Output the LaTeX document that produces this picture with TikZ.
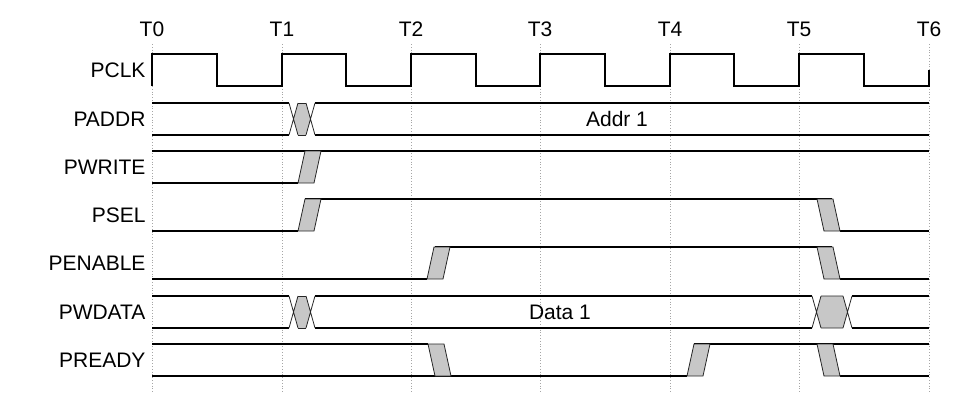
\documentclass[tikz,border=0pt]{standalone}
\usepackage{fontspec}
\setmainfont{Liberation Sans}
\begin{document}
\begin{tikzpicture}[x=1pt,y=-1pt,
  sig/.style={line width=1.6pt,black},
  tr/.style={draw=black!85,line width=0.8pt,fill=black!22,line join=miter},
  xl/.style={black!85,line width=0.8pt},
  grid/.style={gray!70,dotted,line width=0.8pt},
  lab/.style={anchor=east,font=\fontsize{21}{24}\selectfont},
  tl/.style={anchor=south,font=\fontsize{21}{24}\selectfont}]
\useasboundingbox (0,0) rectangle (969,415);
% grid
\foreach \i/\x in {0/152,1/282,2/411,3/540,4/670,5/799,6/929}{
  \draw[grid] (\x,44) -- (\x,392);
  \node[tl] (t\i) at (\x,40) {T\i};
}
% labels
\foreach \n/\y in {PCLK/70,PADDR/119,PWRITE/167,PSEL/215,PENABLE/263,PWDATA/312,PREADY/360}{
  \node[lab] (l\n) at (149,\y) {\n};
}
% PCLK
\draw[sig] (152,86) -- (152,54) -- (217,54) -- (217,86) -- (282,86) -- (282,54) -- (346,54) -- (346,86) -- (411,86) -- (411,54) -- (476,54) -- (476,86) -- (540,86) -- (540,54) -- (605,54) -- (605,86) -- (670,86) -- (670,54) -- (734,54) -- (734,86) -- (799,86) -- (799,54) -- (864,54) -- (864,86) -- (929,86) -- (929,70);
% bus X helper
\newcommand{\busx}[3]{% y top, y bottom, x start
  \pgfmathsetmacro{\ym}{(#1+#2)/2}
  \fill[black!22] (#3+4.5,\ym) -- (#3+9,#1) -- (#3+17,#1) -- (#3+21.5,\ym) -- (#3+17,#2) -- (#3+9,#2) -- cycle;
  \draw[xl] (#3,#1) -- (#3+9,#2) (#3,#2) -- (#3+9,#1);
  \draw[xl] (#3+17,#1) -- (#3+26,#2) (#3+17,#2) -- (#3+26,#1);
  \draw[xl] (#3+9,#1) -- (#3+17,#1) (#3+9,#2) -- (#3+17,#2);
}
% PADDR
\draw[sig] (152,103) -- (289,103) (152,135) -- (289,135) (315,103) -- (929,103) (315,135) -- (929,135);
\busx{103}{135}{289}
\node[font=\fontsize{21}{24}\selectfont] (addr) at (617,119) {Addr 1};
% rising/falling
\newcommand{\rise}[3]{% ytop ybot xbottom-left
  \draw[tr] (#3,#2) -- (#3+16,#2) -- (#3+23,#1) -- (#3+7,#1) -- cycle;}
\newcommand{\fall}[3]{% ytop ybot xtop-left
  \draw[tr] (#3,#1) -- (#3+16,#1) -- (#3+23,#2) -- (#3+7,#2) -- cycle;}
% PWRITE
\draw[sig] (152,151) -- (929,151) (152,183) -- (298,183);
\rise{151}{183}{298}
% PSEL
\draw[sig] (152,231) -- (298,231) (305,199) -- (832,199) (840,231) -- (929,231);
\rise{199}{231}{298}
\fall{199}{231}{817}
% PENABLE
\draw[sig] (152,279) -- (427,279) (435,247) -- (832,247) (840,279) -- (929,279);
\rise{247}{279}{427}
\fall{247}{279}{817}
% PWDATA
\draw[sig] (152,296) -- (289,296) (152,328) -- (289,328) (315,296) -- (812,296) (315,328) -- (812,328) (852,296) -- (929,296) (852,328) -- (929,328);
\busx{296}{328}{289}
\fill[black!22] (816.5,312) -- (821,296) -- (843,296) -- (847.5,312) -- (843,328) -- (821,328) -- cycle;
\draw[xl] (812,296) -- (821,328) (812,328) -- (821,296) (843,296) -- (852,328) (843,328) -- (852,296) (821,296) -- (843,296) (821,328) -- (843,328);
\node[font=\fontsize{21}{24}\selectfont] (data) at (560,312) {Data 1};
% PREADY
\draw[sig] (152,344) -- (428,344) (152,376) -- (687,376) (694,344) -- (929,344) (840,376) -- (929,376);
\fall{344}{376}{428}
\rise{344}{376}{687}
\fall{344}{376}{817}
\end{tikzpicture}
\end{document}
